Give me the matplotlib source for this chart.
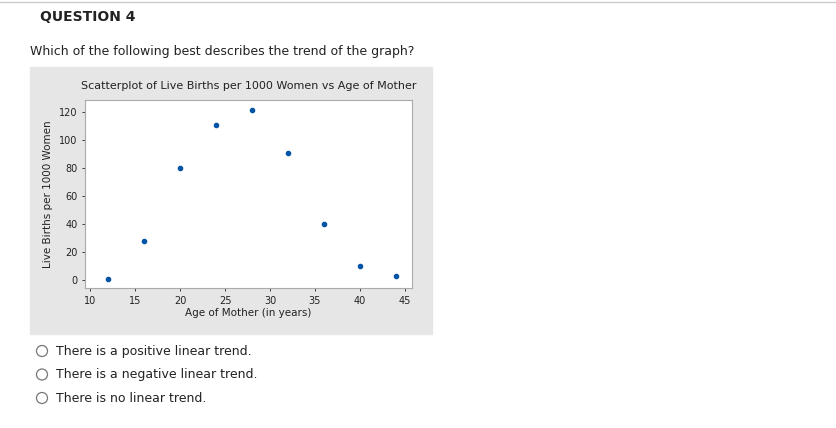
import matplotlib
matplotlib.use('agg')
import matplotlib.pyplot as plt
from matplotlib.patches import Rectangle, Circle

ages = [12, 16, 20, 24, 28, 32, 36, 40, 44]
births = [1, 28, 80, 111, 122, 91, 40, 10, 3]
x_ticks = [10, 15, 20, 25, 30, 35, 40, 45]
y_ticks = [0, 20, 40, 60, 80, 100, 120]
options = ["There is a positive linear trend.",
           "There is a negative linear trend.",
           "There is no linear trend."]

W, H = 837, 428
fig = plt.figure(figsize=(W / 100, H / 100), dpi=100)
fig.patch.set_facecolor('white')


def px(x, y):
    # pixel coords (top-left origin) to figure fraction
    return x / W, 1 - y / H


# page bits
page = fig.add_axes([0, 0, 1, 1])
page.set_xlim(0, W)
page.set_ylim(H, 0)
page.axis('off')
page.plot([0, W], [1.5, 1.5], color='#cccccc', lw=1)
page.text(40, 17, "QUESTION 4", fontsize=10, weight='bold', color='#222222', va='center')
page.text(30, 51, "Which of the following best describes the trend of the graph?",
          fontsize=9, color='#222222', va='center')
page.add_patch(Rectangle((30, 67), 402, 267, color='#e6e6e6'))
for i, opt in enumerate(options):
    yy = 351 + i * 23.5
    page.add_patch(Circle((42, yy), 5.5, fill=False, ec='#777777', lw=0.9))
    page.text(56, yy, opt, fontsize=9, color='#222222', va='center')

# chart area
l, t, r, b = 85, 100, 412, 288
ax = fig.add_axes([l / W, 1 - b / H, (r - l) / W, (b - t) / H])
ax.scatter(ages, births, s=9, color='#0054a6', zorder=3)
ax.set_xlim(9.44, 45.78)
ax.set_ylim(-5.7, 128.9)
ax.set_xticks(x_ticks)
ax.set_yticks(y_ticks)
ax.tick_params(labelsize=7, length=2, width=0.6, colors='#222222')
for s in ax.spines.values():
    s.set_color('#aaaaaa')
    s.set_linewidth(0.8)
ax.set_xlabel("Age of Mother (in years)", fontsize=7.5, labelpad=2, color='#222222')
ax.set_ylabel("Live Births per 1000 Women", fontsize=7.5, labelpad=4, color='#222222')
ax.set_title("Scatterplot of Live Births per 1000 Women vs Age of Mother",
             fontsize=8, pad=8, color='#222222')

fig.savefig('out.png', dpi=100)
